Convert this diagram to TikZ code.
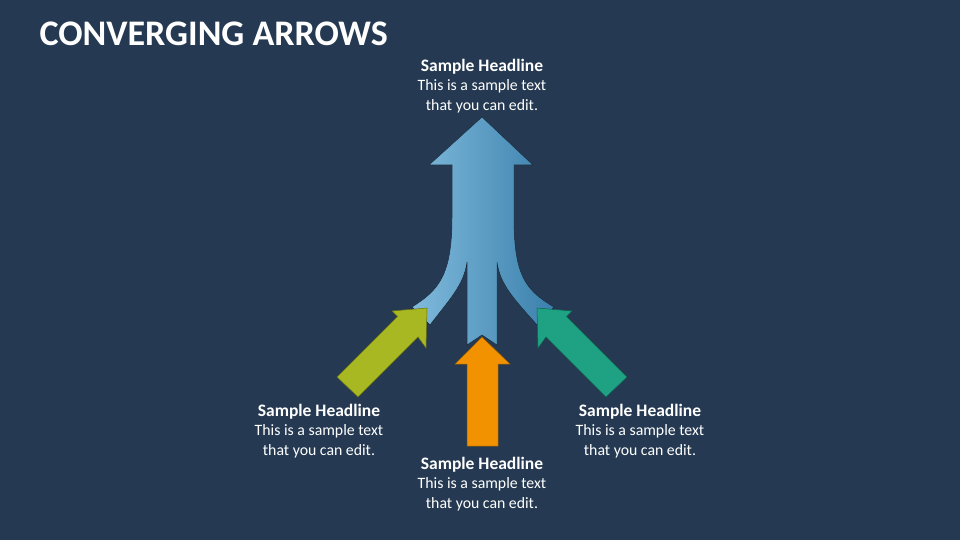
\documentclass[tikz,border=0pt]{standalone}
\usepackage{fontspec}
\setmainfont{Carlito}
\begin{document}
\begin{tikzpicture}[x=1pt,y=-1pt,
  head/.style={font=\bfseries\fontsize{17.5}{20}\selectfont,text=white,align=center},
  body/.style={font=\fontsize{15.8}{19.5}\selectfont,text=white,align=center},
  small/.style={draw=black!40!#1,line width=0.5pt,fill=#1}]
\definecolor{bg}{HTML}{253A52}
\definecolor{ayel}{HTML}{A8B822}
\definecolor{aora}{HTML}{F39200}
\definecolor{agrn}{HTML}{1FA283}
\fill[bg] (0,0) rectangle (960,540);
\useasboundingbox (0,0) rectangle (960,540);
\node[anchor=west,text=white,font=\bfseries\fontsize{36}{40}\selectfont] (title) at (36,34) {CONVERGING ARROWS};
% big arrow
\shade[left color={rgb,255:red,128;green,186;blue,220},right color={rgb,255:red,58;green,128;blue,172},draw=bg!70!black,line width=0.5pt]
 (482,117) -- (533,165) -- (514,165) -- (514,217)
 .. controls (514,275) and (525,290) .. (554,307) -- (537,325)
 .. controls (515,300) and (500,285) .. (497,262) -- (497,345) -- (482,335) -- (467,345) -- (467,262)
 .. controls (464,285) and (449,300) .. (430,325) -- (412,307)
 .. controls (439,290) and (452,275) .. (452,217) -- (452,165) -- (429,165) -- cycle;
% small arrows
\draw[small=ayel] (337,377) -- (397.5,316.5) -- (392,311) -- (427,308) -- (426,348) -- (418,337) -- (358,397) -- cycle;
\draw[small=agrn] (627,377) -- (566.5,316.5) -- (572,311) -- (537,308) -- (538,348) -- (546,337) -- (606,397) -- cycle;
\draw[small=aora] (482,337) -- (510,364) -- (498,364) -- (498,446) -- (467,446) -- (467,364) -- (455,364) -- cycle;
% texts
\node[head] (h1) at (482,67) {Sample Headline};
\node[body,anchor=north] (b1) at (482,76) {This is a sample text\\that you can edit.};
\node[head] (h2) at (319,412) {Sample Headline};
\node[body,anchor=north] (b2) at (319,421) {This is a sample text\\that you can edit.};
\node[head] (h3) at (640,412) {Sample Headline};
\node[body,anchor=north] (b3) at (640,421) {This is a sample text\\that you can edit.};
\node[head] (h4) at (482,465) {Sample Headline};
\node[body,anchor=north] (b4) at (482,474) {This is a sample text\\that you can edit.};
\end{tikzpicture}
\end{document}
